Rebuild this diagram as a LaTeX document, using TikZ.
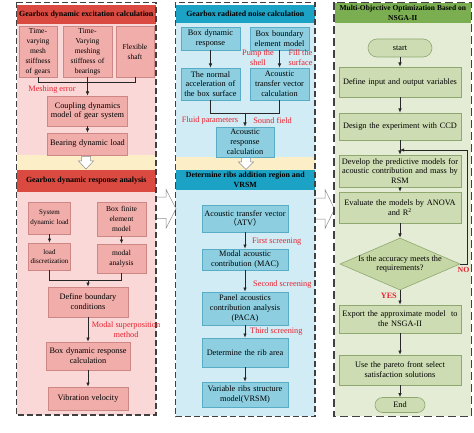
\documentclass[tikz,border=0pt]{standalone}
\usepackage{fontspec}
\setmainfont{Liberation Serif}
\newfontfamily\cjkfont{Noto Sans CJK SC}
\usetikzlibrary{arrows.meta,shapes.geometric}
\definecolor{redhead}{HTML}{DA4A40}
\definecolor{pinkbg}{HTML}{F9D8D7}
\definecolor{pinkbox}{HTML}{F0ADAA}
\definecolor{pinkline}{HTML}{CD8886}
\definecolor{bandc}{HTML}{FCEFC7}
\definecolor{bluehead}{HTML}{1CA2C5}
\definecolor{bluebg}{HTML}{D1ECF4}
\definecolor{bluebox}{HTML}{8DCFE1}
\definecolor{blueline}{HTML}{58ACC5}
\definecolor{greenhead}{HTML}{7BAE51}
\definecolor{greenbg}{HTML}{E4ECD5}
\definecolor{greenbox}{HTML}{CDDCB2}
\definecolor{greendia}{HTML}{C6D7A6}
\definecolor{greenline}{HTML}{8EA86F}
\definecolor{lblred}{HTML}{E8202E}
\definecolor{framecol}{HTML}{404040}
\tikzset{
  basebox/.style={draw, line width=0.6pt, inner sep=1pt, align=center, text=black},
  rbox/.style={basebox, fill=pinkbox, draw=pinkline},
  bbox/.style={basebox, fill=bluebox, draw=blueline},
  gbox/.style={basebox, fill=greenbox, draw=greenline},
  smallf/.style={font=\fontsize{7.5}{10}\selectfont},
  tinyf/.style={font=\fontsize{7}{9.5}\selectfont},
  hd/.style={inner sep=0pt, align=center, text=black, font=\fontsize{7.9}{9.5}\selectfont\bfseries},
  lbl/.style={text=lblred, inner sep=0pt, align=center},
  arr/.style={draw=black!85, line width=0.75pt, -{Latex[length=4.2pt,width=3.6pt]}},
  ln/.style={draw=black!85, line width=0.75pt},
  fr/.style={draw=framecol, line width=1.1pt, dash pattern=on 6pt off 3pt},
  frb/.style={draw=framecol, line width=1.7pt, dash pattern=on 8pt off 4pt},
  hollow/.style={fill=white, draw=black!45, line width=0.5pt}
}
% name, style, x1, y1, x2, y2, text
\newcommand\mkbox[7]{%
  \pgfmathsetmacro\bxw{#5-#3}\pgfmathsetmacro\bxh{#6-#4}%
  \pgfmathsetmacro\bxt{#5-#3-2}%
  \pgfmathsetmacro\bxcx{(#3+#5)/2}\pgfmathsetmacro\bxcy{(#4+#6)/2}%
  \node[#2, minimum width=\bxw pt, minimum height=\bxh pt, text width=\bxt pt] (#1) at (\bxcx,\bxcy) {#7};}
\begin{document}
\begin{tikzpicture}[x=1pt,y=-1pt,font=\fontsize{8.3}{9.8}\selectfont]
\useasboundingbox (0,0) rectangle (474,433);
\fill[white] (0,0) rectangle (474,433);
% backgrounds
\fill[pinkbg] (17,24) rectangle (155.5,155);
\fill[bandc] (17,155) rectangle (155.5,170);
\fill[pinkbg] (17,192) rectangle (155.5,415);
\fill[bluebg] (176,23) rectangle (314.5,157);
\fill[bandc] (176,157) rectangle (314.5,170);
\fill[bluebg] (176,190) rectangle (314.5,416);
\fill[greenbg] (334.5,23) rectangle (471,416);
% side block arrows
\filldraw[hollow] (156,197) -- (166,197) -- (166,189.3) -- (176,208.8) -- (166,228.3) -- (166,218.3) -- (156,218.3);
\filldraw[hollow] (315,198) -- (325,198) -- (325,189.5) -- (334.5,209) -- (325,228.5) -- (325,219) -- (315,219);
% down block arrows
\filldraw[hollow] (81.5,156.5) -- (90.5,156.5) -- (90.5,161) -- (93.5,161) -- (86,169) -- (78.5,161) -- (81.5,161) -- cycle;
\filldraw[hollow] (241.5,157.5) -- (250.5,157.5) -- (250.5,162) -- (253.5,162) -- (246,169.5) -- (238.5,162) -- (241.5,162) -- cycle;
% headers
\node[hd, fill=redhead, minimum width=138.5pt, minimum height=19pt] (h1) at (86.25,14.5) {Gearbox dynamic excitation calculation};
\node[hd, fill=redhead, minimum width=138.5pt, minimum height=22pt] (h2) at (86.25,181) {Gearbox dynamic response analysis};
\node[hd, fill=bluehead, minimum width=138.5pt, minimum height=18pt] (h3) at (245.25,14) {Gearbox radiated noise calculation};
\node[hd, fill=bluehead, minimum width=138.5pt, minimum height=20pt] (h4) at (245.25,180) {Determine ribs addition region and\\VRSM};
\node[hd, fill=greenhead, minimum width=136.5pt, minimum height=20pt, font=\fontsize{7.5}{9.3}\selectfont\bfseries] (h5) at (402.75,13) {Multi-Objective Optimization Based on\\NSGA-II};
% frames
\draw[fr] (16.5,2.5) rectangle (156,415);
\draw[fr] (175.5,2.5) rectangle (315,416.5);
\draw[frb] (334,2.5) rectangle (471.5,416.5);

% ---------- column 1 ----------
\mkbox{g1}{rbox,smallf}{19}{26}{57}{77}{Time-\\varying\\mesh\\stiffness\\of gears}
\mkbox{g2}{rbox,smallf}{63}{26}{112}{77}{Time-\\Varying\\meshing\\stiffness of\\bearings}
\mkbox{g3}{rbox,smallf}{116}{26}{154}{77}{Flexible\\shaft}
\mkbox{c1}{rbox}{47.5}{96}{127.5}{126}{Coupling dynamics\\model of gear system}
\mkbox{c2}{rbox}{47.5}{133}{127.5}{155}{Bearing dynamic load}
\coordinate (m1) at (87.5,82);
\draw[ln] (g1.south) -- (g1.south |- m1) -| (g3.south);
\draw[arr] (g2.south) -- (c1.north);
\node[lbl] (me) at (52,89.5) {Meshing error};
\draw[arr] (c1) -- (c2);

\mkbox{s1}{rbox,tinyf}{28.5}{202}{70.5}{234}{System\\dynamic load}
\mkbox{s2}{rbox,smallf}{97}{202}{146}{236}{Box finite\\element\\model}
\mkbox{s3}{rbox,tinyf}{28.5}{243}{70.5}{270}{load\\discretization}
\mkbox{s4}{rbox,smallf}{97}{244}{146}{273}{modal\\analysis}
\mkbox{s5}{rbox}{48}{287}{128}{317}{Define boundary\\conditions}
\mkbox{s6}{rbox}{46}{342}{130}{370}{Box dynamic response\\calculation}
\mkbox{s7}{rbox}{48}{387}{128}{410}{Vibration velocity}
\draw[arr] (s1) -- (s3);
\draw[arr] (s2) -- (s4);
\coordinate (m2) at (88,280);
\draw[ln] (s3.south) -- (s3.south |- m2) -| (s4.south);
\draw[arr] (m2) -- (s5.north);
\draw[arr] (s5) -- (s6);
\node[lbl] (msm) at (126,330) {Modal superposition\\method};
\draw[arr] (s6) -- (s7);

% ---------- column 2 ----------
\mkbox{b1}{bbox}{181}{27}{240}{50}{Box dynamic\\response}
\mkbox{b2}{bbox}{250}{27}{309}{50}{Box boundary\\element model}
\mkbox{b3}{bbox}{181}{68}{240}{100}{The normal\\acceleration of\\the box surface}
\mkbox{b4}{bbox}{250}{68}{309}{100}{Acoustic\\transfer vector\\calculation}
\mkbox{b5}{bbox}{216}{127}{274}{157}{Acoustic\\response\\calculation}
\draw[arr] (b1) -- (b3);
\draw[arr] (b2) -- (b4);
\node[lbl] (pump) at (258,58) {Pump the\\shell};
\node[lbl] (fill) at (300.5,58) {Fill the\\surface};
\coordinate (m3) at (245,113);
\draw[ln] (b3.south) -- (b3.south |- m3) -| (b4.south);
\draw[arr] (m3) -- (b5.north);
\node[lbl] (fluid) at (210,120.5) {Fluid parameters};
\node[lbl] (sound) at (272.5,120.5) {Sound field};

\mkbox{b6}{bbox}{202}{205}{288}{232}{Acoustic transfer vector\\{\cjkfont （}ATV{\cjkfont ）}}
\mkbox{b7}{bbox}{202}{249}{288}{270}{Modal acoustic\\contribution (MAC)}
\mkbox{b8}{bbox}{202}{292}{288}{325}{Panel acoustics\\contribution analysis\\(PACA)}
\mkbox{b9}{bbox}{202}{338}{288}{367}{Determine the rib area}
\mkbox{b10}{bbox}{202}{382}{288}{407}{Variable ribs structure\\model(VRSM)}
\draw[arr] (b6) -- (b7);
\draw[arr] (b7) -- (b8);
\draw[arr] (b8) -- (b9);
\draw[arr] (b9) -- (b10);
\node[lbl, anchor=west] (scr1) at (252,242) {First screening};
\node[lbl, anchor=west] (scr2) at (253,285) {Second screening};
\node[lbl, anchor=west] (scr3) at (250,332) {Third screening};

% ---------- column 3 ----------
\node[gbox, rounded corners=9pt, minimum width=64pt, minimum height=18pt, inner sep=0pt] (start) at (400,48) {start};
\mkbox{d1}{gbox}{339}{67}{461}{97}{Define input and output variables}
\mkbox{d2}{gbox}{339}{113}{461}{140}{Design the experiment with CCD}
\mkbox{d3}{gbox}{339}{155}{461}{187}{Develop the predictive models for\\acoustic contribution and mass by\\RSM}
\mkbox{d4}{gbox}{339}{192}{461}{223}{Evaluate the models by ANOVA\\and R\textsuperscript{2}}
\node[gbox, diamond, fill=greendia, aspect=2.3, inner sep=0pt, minimum width=120pt, minimum height=52pt] (dia) at (400,264) {\makebox[40pt]{Is the accuracy meets the}\\\makebox[40pt]{requirements?}};
\mkbox{d5}{gbox}{339}{305}{461}{333}{Export the approximate model\ \ to\\the NSGA-II}
\mkbox{d6}{gbox}{339}{355}{461}{385}{Use the pareto front select\\satisfaction solutions}
\node[gbox, rounded corners=7.5pt, minimum width=50pt, minimum height=15pt, inner sep=0pt] (fin) at (400,405) {End};
\draw[arr] (start) -- (d1);
\draw[arr] (d1) -- (d2);
\draw[arr] (d2) -- (d3);
\draw[arr] (d3) -- (d4);
\draw[arr] (d4) -- (dia);
\draw[arr] (dia) -- (d5);
\draw[arr] (d5) -- (d6);
\draw[arr] (d6) -- (fin);
\coordinate (fb) at (467,150);
\draw[arr] (dia.east) -| (fb) -- (fb -| d2.south);
\node[lbl, font=\fontsize{7.8}{9.8}\selectfont\bfseries] (no) at (463.5,269.5) {NO};
\node[lbl, anchor=east, font=\fontsize{8.2}{9.8}\selectfont\bfseries] (yes) at (397,296) {YES};
\end{tikzpicture}
\end{document}
